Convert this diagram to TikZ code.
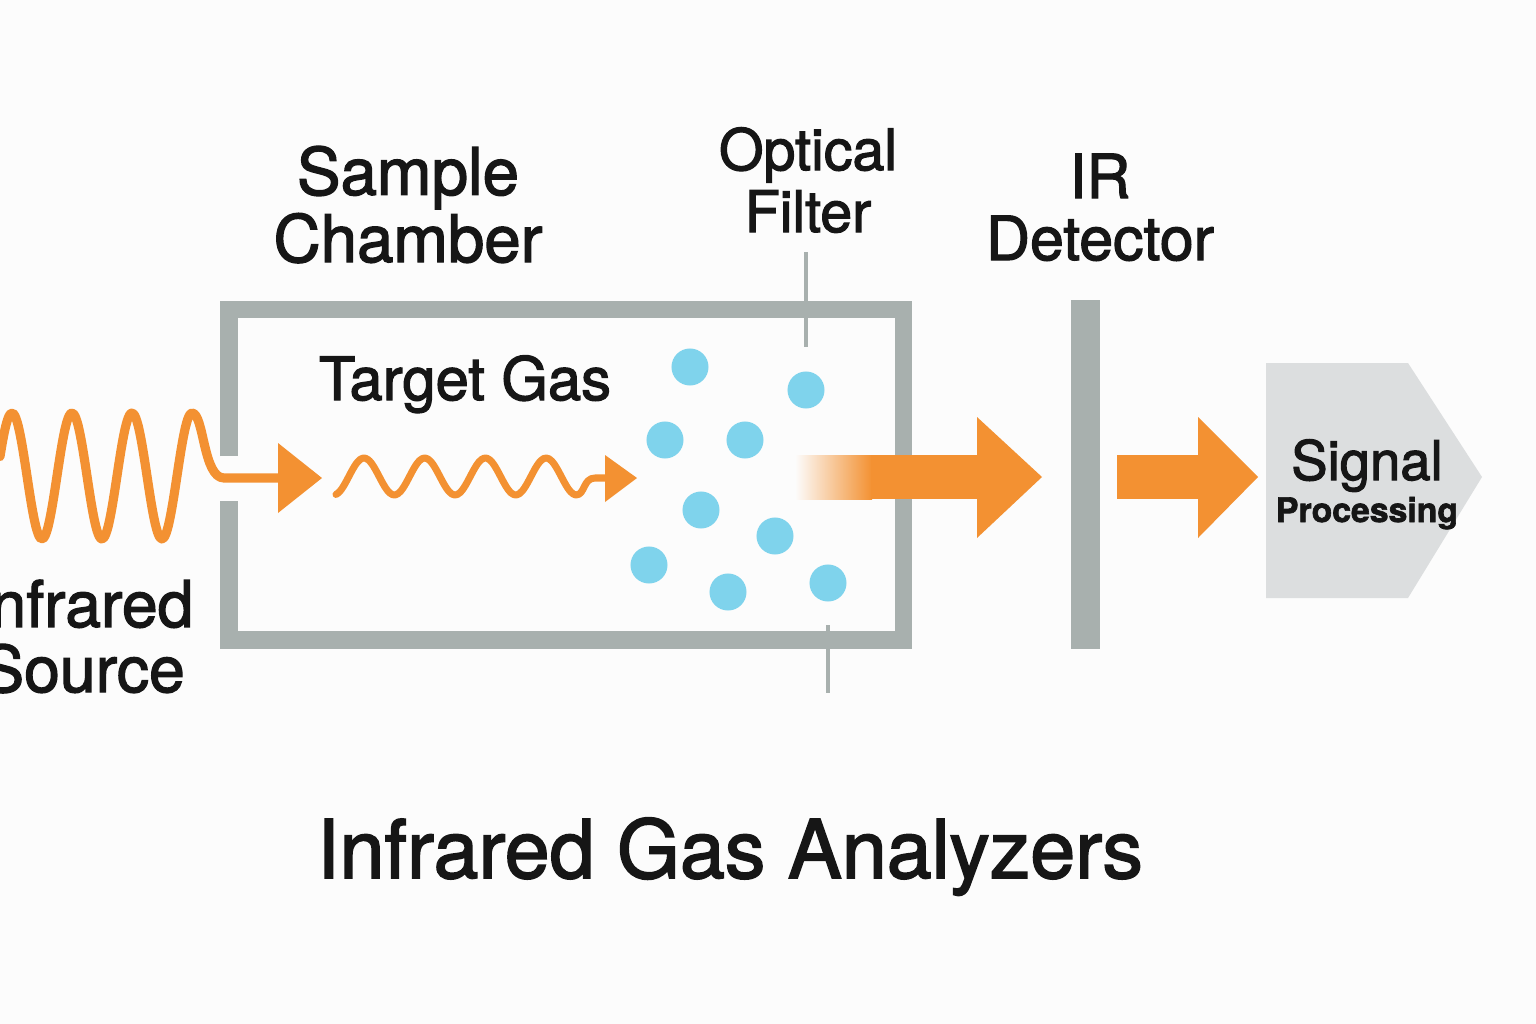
\documentclass[tikz,border=0pt]{standalone}
\usepackage{fontspec}
\newfontfamily\labelfont{TeX Gyre Heros}[FakeBold=2]
\usepackage{tikz}
\usetikzlibrary{calc}
\definecolor{wallgray}{RGB}{168,176,174}
\definecolor{rayorange}{RGB}{243,145,50}
\definecolor{gasblue}{RGB}{127,211,236}
\definecolor{procgray}{RGB}{220,222,223}
\definecolor{inkblack}{RGB}{22,22,22}
\definecolor{paper}{RGB}{252,252,252}

\begin{document}
\begin{tikzpicture}[x=0.01cm,y=-0.01cm,
  wall/.style={draw=wallgray,line width=5.1pt},
  wave/.style={draw=rayorange,line width=2.6pt,line cap=round,line join=round},
  gas/.style={circle,fill=gasblue,inner sep=0pt,minimum size=0.37cm},
  lbl/.style={inner sep=0pt,align=center,anchor=base,text=inkblack}]
\fill[paper] (0,0) rectangle (1536,1024);
\useasboundingbox (0,0) rectangle (1536,1024);
% sample chamber, open at the left for the beam
\draw[wall] (229,456) -- (229,309.5) -- (903.5,309.5) -- (903.5,640) -- (229,640) -- (229,501);
% optical filter marks
\draw[wallgray,line width=1.1pt] (806,252) -- (806,347);
\draw[wallgray,line width=1.1pt] (828,625) -- (828,693);
% IR detector
\fill[wallgray] (1071,300) rectangle (1100,649);
% signal processing block
\fill[procgray] (1266,363) -- (1408,363) -- (1482,477) -- (1408,598) -- (1266,598) -- cycle;
% gas molecules
\foreach \gx/\gy [count=\i] in {690/367,806/390,665/440,745/440,701/510,775/536,649/565,728/592,828/583}
  \node[gas] (g\i) at (\gx,\gy) {};
% infrared source wave
\coordinate (srcend) at (280,478);
\draw[wave] plot[domain=0:192,samples=90,smooth] (\x,{476-63*cos(6*(\x-12))})
  .. controls (204,413) and (203,478) .. (224,478) -- (srcend);
\fill[rayorange] (278,443) -- (322,478) -- (278,513) -- cycle;
% wave inside the chamber
\coordinate (gasend) at (607,478);
\draw[wave,line width=2pt] plot[domain=336:576,samples=90,smooth] (\x,{476.5-18.5*cos(5.931*(\x-364))})
  .. controls (585,495) and (583,478) .. (595,478) -- (gasend);
\fill[rayorange] (605,455) -- (637,478) -- (605,502) -- cycle;
% beam leaving the chamber
\shade[left color=paper,right color=rayorange] (795,455) rectangle (872,499);
\fill[rayorange] (871,455) rectangle (978,499);
\fill[rayorange] (977,417) -- (1042,477) -- (977,538) -- cycle;
% detector to processing
\fill[rayorange] (1117,455) rectangle (1199,499);
\fill[rayorange] (1198,417) -- (1258,477) -- (1198,538) -- cycle;
% labels
\node[lbl,font=\labelfont\fontsize{18.6}{19.1}\selectfont] (chamber) at (408,262) {Sample\\Chamber};
\node[lbl,font=\labelfont\fontsize{16.3}{17.6}\selectfont] (filter) at (808,232) {Optical\\Filter};
\node[lbl,font=\labelfont\fontsize{17.3}{17.6}\selectfont] (detector) at (1100,260) {IR\\Detector};
\node[lbl,font=\labelfont\fontsize{17}{18}\selectfont] (target) at (465,400) {Target Gas};
\node[lbl,font=\labelfont\fontsize{18.3}{18.5}\selectfont] (source) at (83,692) {Infrared\\Source};
\node[lbl,font=\labelfont\fontsize{15.5}{16}\selectfont] (signal) at (1367,480) {Signal};
\node[lbl,font=\labelfont\bfseries\fontsize{9.6}{12}\selectfont] (proc) at (1367,522) {Processing};
\node[lbl,font=\labelfont\fontsize{23}{24}\selectfont] (title) at (730,878) {Infrared Gas Analyzers};
\end{tikzpicture}
\end{document}
